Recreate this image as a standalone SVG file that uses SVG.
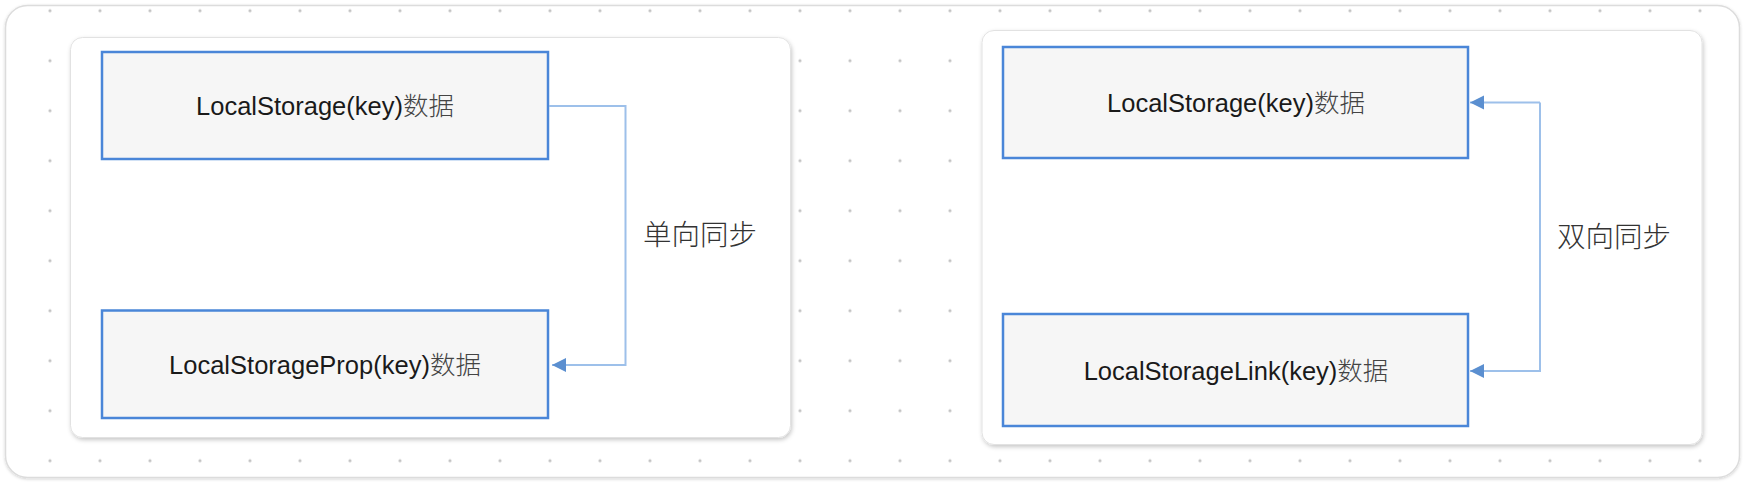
<svg xmlns="http://www.w3.org/2000/svg" width="1746" height="484" viewBox="0 0 1746 484">
  <defs>
    <pattern id="dots" patternUnits="userSpaceOnUse" x="25" y="-14.3" width="50" height="50">
      <circle cx="25" cy="25" r="1.6" fill="#c4c4c4"/>
    </pattern>
    <filter id="panelShadow" x="-5%" y="-5%" width="110%" height="115%">
      <feDropShadow dx="1" dy="2" stdDeviation="2" flood-color="#000" flood-opacity="0.22"/>
    </filter>
    <filter id="outerShadow" x="-2%" y="-5%" width="104%" height="110%">
      <feDropShadow dx="0" dy="1" stdDeviation="1.5" flood-color="#000" flood-opacity="0.18"/>
    </filter>
    <marker id="arrow" markerWidth="16" markerHeight="16" refX="14" refY="7" orient="auto" markerUnits="userSpaceOnUse">
      <path d="M0,0 L14,7 L0,14 Z" fill="#5b8fd0"/>
    </marker>
  </defs>
  <style>
    .panel { fill: #ffffff; stroke: #e2e2e2; stroke-width: 1; }
    .box { fill: #f6f6f6; stroke: #4a86d8; stroke-width: 2.5; }
    .boxtext { font-family: "Liberation Sans", "Noto Sans CJK SC", sans-serif; font-size: 25.5px; fill: #1a1a1a; text-anchor: middle; }
    .cjk { font-family: "Noto Sans CJK SC", sans-serif; fill: #444444; font-weight: 300; }
    .label { font-family: "Noto Sans CJK SC", sans-serif; font-size: 28.5px; fill: #333333; font-weight: 300; }
    .conn { fill: none; stroke: #9dc0ea; stroke-width: 2; }
  </style>

  <rect x="0" y="0" width="1746" height="484" fill="#ffffff"/>
  <g id="background">
    <rect x="5.5" y="5.5" width="1734" height="472" rx="22" ry="22" fill="#ffffff" stroke="#dcdcdc" stroke-width="1.5" filter="url(#outerShadow)"/>
    <rect x="20" y="0" width="1705" height="475" fill="url(#dots)"/>
  </g>

  <g id="panel-left">
    <rect class="panel" x="70.5" y="37.5" width="720" height="400" rx="12" ry="12" filter="url(#panelShadow)"/>
  </g>
  <g id="panel-right">
    <rect class="panel" x="982" y="30.5" width="720" height="414" rx="12" ry="12" filter="url(#panelShadow)"/>
  </g>

  <g id="node-left-top">
    <rect class="box" x="102" y="52" width="446" height="107"/>
    <text class="boxtext" x="325" y="115">LocalStorage(key)<tspan class="cjk">数据</tspan></text>
  </g>
  <g id="node-left-bottom">
    <rect class="box" x="102" y="310.5" width="446" height="107.5"/>
    <text class="boxtext" x="325" y="374">LocalStorageProp(key)<tspan class="cjk">数据</tspan></text>
  </g>
  <g id="node-right-top">
    <rect class="box" x="1003" y="47" width="465" height="111"/>
    <text class="boxtext" x="1236" y="112">LocalStorage(key)<tspan class="cjk">数据</tspan></text>
  </g>
  <g id="node-right-bottom">
    <rect class="box" x="1003" y="314" width="465" height="112"/>
    <text class="boxtext" x="1236" y="380">LocalStorageLink(key)<tspan class="cjk">数据</tspan></text>
  </g>

  <g id="connectors">
    <path class="conn" d="M549,106 H625.5 V365 H552" marker-end="url(#arrow)"/>
    <path class="conn" d="M1540,102.5 H1470" marker-end="url(#arrow)"/>
    <path class="conn" d="M1540,102.5 V371 H1470" marker-end="url(#arrow)"/>
  </g>

  <g id="labels">
    <text class="label" x="643" y="245">单向同步</text>
    <text class="label" x="1557" y="247">双向同步</text>
  </g>
</svg>
